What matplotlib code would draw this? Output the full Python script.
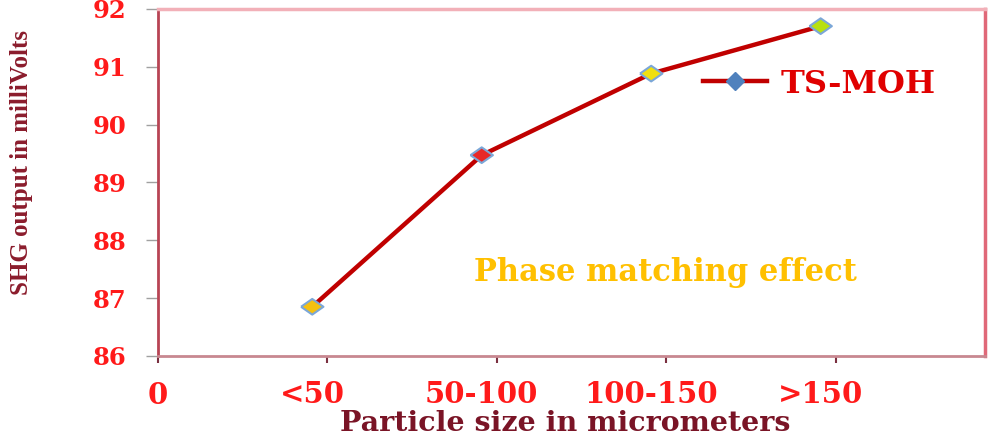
import numpy as np
import matplotlib
matplotlib.use("Agg")
import matplotlib.pyplot as plt
from matplotlib.lines import Line2D

# data
sizes = ["<50", "50-100", "100-150", ">150"]
shg_mv = [86.85, 89.47, 90.88, 91.70]
marker_fill = ["#F5C010", "#E82828", "#F0E010", "#B8E010"]
series_name = "TS-MOH"
y_ticks = [86, 87, 88, 89, 90, 91, 92]

serif = ["DejaVu Serif"]
red = "#FF1A1A"
maroon = "#7A1426"

fig = plt.figure(figsize=(9.97, 4.40), dpi=100)
ax = fig.add_axes([0.1585, 0.191, 0.8295, 0.789])

# points sit a little left of the tick marks in the original
x = np.arange(1, len(sizes) + 1) - 0.09
diamond = [(-1, 0), (0, 0.7), (1, 0), (0, -0.7), (-1, 0)]

ax.plot(x, shg_mv, color="#C00000", lw=3.2, zorder=2)
ax.scatter(x, shg_mv, marker=diamond, s=260, c=marker_fill,
           edgecolors="#7BA7D8", linewidths=1.5, zorder=3)

ax.set_xlim(0, 4.88)
ax.set_ylim(86, 92)
ax.set_yticks(y_ticks)
ax.set_yticklabels([str(v) for v in y_ticks])

# "0" on the first major tick, category names under the points
ax.set_xticks([0, 1, 2, 3, 4])
ax.set_xticklabels(["0", "", "", "", ""])
ax.set_xticks(x, minor=True)
ax.set_xticklabels(sizes, minor=True)

for lab in ax.get_xticklabels(which="both") + ax.get_yticklabels():
    lab.set_fontfamily(serif)
    lab.set_fontweight("bold")
    lab.set_color(red)

for lab in ax.get_yticklabels():
    lab.set_fontsize(17.5)
for lab in ax.get_xticklabels(which="both"):
    lab.set_fontsize(21)

ax.tick_params(axis="y", direction="out", length=9, width=1, color="#A0A0A0", pad=14)
ax.tick_params(axis="x", which="major", direction="out", length=5, width=1.5,
               color="#7A3040", pad=13)
ax.tick_params(axis="x", which="minor", length=0, pad=17)

ax.spines["left"].set_color("#B84454")
ax.spines["left"].set_linewidth(2)
ax.spines["bottom"].set_color("#C88890")
ax.spines["bottom"].set_linewidth(2)
ax.spines["top"].set_color("#F2B0B8")
ax.spines["top"].set_linewidth(2.5)
ax.spines["right"].set_color("#E06878")
ax.spines["right"].set_linewidth(2.5)

ax.set_xlabel("Particle size in micrometers", fontfamily=serif, fontweight="bold",
              fontsize=20.5, color=maroon)
ax.xaxis.set_label_coords(0.492, -0.217)
ax.xaxis.label.set_va("baseline")

ax.set_ylabel("SHG output in milliVolts", fontfamily=["Liberation Serif"],
              fontweight="bold", fontsize=18, color="#8B1C2C")
ax.yaxis.set_label_coords(-0.165, 0.557)
ax.yaxis.label.set_va("center")

ax.text(0.613, 0.24, "Phase matching effect", transform=ax.transAxes,
        ha="center", va="center", fontfamily=serif, fontweight="bold",
        fontsize=22, color="#FFC000")

handle = Line2D([], [], color="#C00000", lw=3.2, marker="D", ms=9,
                markerfacecolor="#4F81BD", markeredgecolor="#4F81BD")
leg = ax.legend([handle], [series_name], loc="center left",
                bbox_to_anchor=(0.659, 0.783), frameon=False,
                borderpad=0, borderaxespad=0,
                handlelength=2.0, handletextpad=0.42,
                prop={"family": serif, "weight": "bold", "size": 23})
for t in leg.get_texts():
    t.set_color("#E00000")

fig.savefig("out.png", dpi=100)
